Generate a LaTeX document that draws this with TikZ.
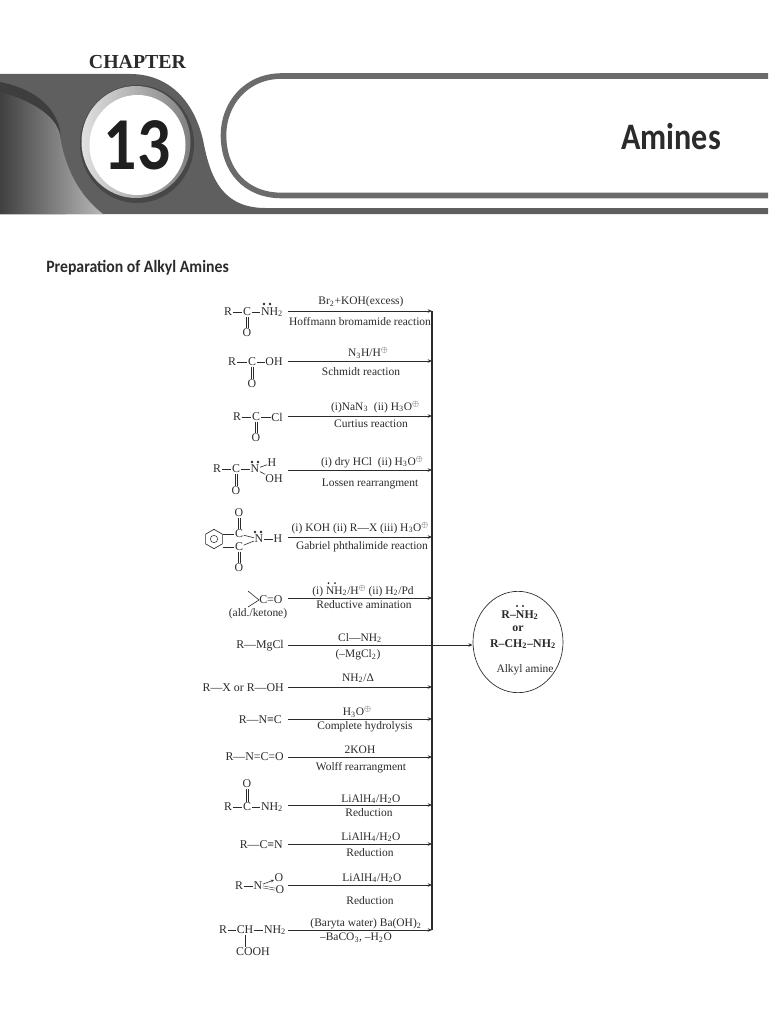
\documentclass[tikz,border=0pt]{standalone}
\usepackage{fontspec}
\usepackage{graphicx}
\setmainfont{Liberation Serif}
\newfontfamily\headfont{Carlito}
\usetikzlibrary{shapes.geometric,arrows.meta,calc}
\definecolor{ink}{HTML}{2B2B2B}
\definecolor{band}{HTML}{5F5F5F}
\definecolor{bandd}{HTML}{3E3E3E}
\newcommand{\sbs}[1]{\textsubscript{#1}}
\newcommand{\plusup}{\raisebox{0.75ex}{\scalebox{0.72}{$\oplus$}}}
\newcommand{\dblv}[2]{%
  \draw[bond] ($(#1)+(-1.1,0)$) -- ($(#2)+(-1.1,0)$);
  \draw[bond] ($(#1)+(1.1,0)$) -- ($(#2)+(1.1,0)$);}
\tikzset{
 lab/.style={font=\fontsize{8.6}{10}\selectfont,text=ink,inner sep=0pt,anchor=center},
 atom/.style={font=\fontsize{8.9}{10}\selectfont,text=ink,inner sep=0.3pt,anchor=center},
 chem/.style={font=\fontsize{8.9}{10}\selectfont,text=ink,inner sep=0pt,anchor=east},
 bond/.style={draw=ink,line width=0.45pt},
 dbl/.style={draw=ink,line width=0.35pt,double=white,double distance=1.1pt},
 arr/.style={draw=ink,line width=0.7pt,-{Stealth[length=3.2pt,width=2.6pt]}},
 lp/.style={fill=ink,circle,inner sep=0pt,minimum size=1.9pt},
}
\begin{document}
\begin{tikzpicture}[x=0.75pt,y=-0.75pt]
\useasboundingbox (0,0) rectangle (768,1024);
\fill[white] (0,0) rectangle (768,1024);
% header band
\fill[band] (0,74) -- (130,74) .. controls (172,74) and (195,105) .. (203,140)
  .. controls (209,170) and (218,208) .. (265,208) -- (768,208) -- (768,214) -- (0,214) -- cycle;
\fill[bandd] (0,82) .. controls (30,88) and (54,103) .. (60,130) -- (66,214) -- (0,214) -- cycle;
\shade[left color=black!75,right color=black!28] (0,92) .. controls (30,100) and (56,115) .. (60,135)
  .. controls (64,165) and (78,195) .. (103,214) -- (0,214) -- cycle;
% number disc
\fill[black!72] (137,144) ellipse (57 and 59);
\shade[left color=black!12,right color=black!50] (136,142) ellipse (54.5 and 56);
\fill[white] (137.5,145) ellipse (48 and 50);
\node[inner sep=0pt,text=black!88] (num) at (137,145) {\headfont\bfseries\scalebox{0.88}[1]{\fontsize{56}{56}\selectfont 13}};
% title panel
\draw[black!58,line width=4.2pt] (768,76) -- (282,76) .. controls (245,76) and (223.5,105) .. (223.5,135)
  .. controls (223.5,170) and (245,195.5) .. (282,195.5) -- (768,195.5);
\node[inner sep=0pt,text=ink] (title) at (671,137) {\headfont\bfseries\scalebox{0.86}[1]{\fontsize{28}{28}\selectfont Amines}};
\node[inner sep=0pt,text=ink] (chap) at (137.5,62) {\fontsize{14.9}{15}\selectfont\bfseries CHAPTER};
\node[inner sep=0pt,text=ink,anchor=west] (sect) at (46,268) {\headfont\bfseries\scalebox{0.91}[1]{\fontsize{13}{14}\selectfont Preparation of Alkyl Amines}};

% product
\node[draw=ink,line width=0.5pt,ellipse,minimum width=67.5pt,minimum height=76pt,inner sep=0pt] (prod) at (518,642) {};
\node[atom,font=\fontsize{8.9}{10}\selectfont\bfseries] (p1) at (520,615) {R–NH\sbs{2}};
\node[atom,font=\fontsize{8.9}{10}\selectfont\bfseries] (p2) at (518,629) {or};
\node[atom,font=\fontsize{8.9}{10}\selectfont\bfseries] (p3) at (523,644) {R–CH\sbs{2}–NH\sbs{2}};
\node[lab] (p4) at (525,670) {Alkyl amine};
\fill[ink] (517,606) circle (1.2) (523,606) circle (1.2);

% bus ends
\foreach \n/\y in {1/311,2/361,3/416,4/470,5/537,6/598,7/645,8/687,9/719,10/757,11/805,12/844,13/885,14/930}{
  \coordinate (s\n) at (288,\y);
  \coordinate (e\n) at (432,\y);
}
\draw[ink,line width=0.9pt] (e1) -- (e14);
\foreach \n in {1,2,3,4,5,6,8,9,10,11,12,13,14}{ \draw[arr] (s\n) -- (e\n); }
\draw[arr] (s7) -- (prod.west |- s7);

% reagents and names
\node[lab] (a1) at (361,302) {Br\sbs{2}+KOH(excess)};
\node[lab] (b1) at (360,322) {Hoffmann bromamide reaction};
\node[lab] (a2) at (368,353) {N\sbs{3}H/H\plusup};
\node[lab] (b2) at (361,372) {Schmidt reaction};
\node[lab] (a3) at (375,407) {(i)NaN\sbs{3}\ \ (ii) H\sbs{3}O\plusup};
\node[lab] (b3) at (371,424) {Curtius reaction};
\node[lab] (a4) at (372,462) {(i) dry HCl\ \ (ii) H\sbs{3}O\plusup};
\node[lab] (b4) at (370,484) {Lossen rearrangment};
\node[lab] (a5) at (360,528) {(i) KOH (ii) R—X (iii) H\sbs{3}O\plusup};
\node[lab] (b5) at (362,547) {Gabriel phthalimide reaction};
\node[lab] (a6) at (363,591) {(i) NH\sbs{2}/H\plusup\ (ii) H\sbs{2}/Pd};
\fill[ink] (328.5,583) circle (1) (335,583) circle (1);
\node[lab] (b6) at (364,605) {Reductive amination};
\node[lab] (a7) at (360,638) {Cl—NH\sbs{2}};
\node[lab] (b7) at (358,655) {(–MgCl\sbs{2})};
\node[lab] (a8) at (358,678) {NH\sbs{2}/Δ};
\node[lab] (a9) at (357,712) {H\sbs{3}O\plusup};
\node[lab] (b9) at (365,727) {Complete hydrolysis};
\node[lab] (a10) at (360,750) {2KOH};
\node[lab] (b10) at (361,768) {Wolff rearrangment};
\node[lab] (a11) at (371,799) {LiAlH\sbs{4}/H\sbs{2}O};
\node[lab] (b11) at (369,813) {Reduction};
\node[lab] (a12) at (371,837) {LiAlH\sbs{4}/H\sbs{2}O};
\node[lab] (b12) at (370,853) {Reduction};
\node[lab] (a13) at (372,878) {LiAlH\sbs{4}/H\sbs{2}O};
\node[lab] (b13) at (370,901) {Reduction};
\node[lab] (a14) at (366,924) {(Baryta water)\ Ba(OH)\sbs{2}};
\node[lab] (b14) at (356,938) {–BaCO\sbs{3}, –H\sbs{2}O};

% row 1
\node[atom] (r1R) at (228,312) {R};
\node[atom] (r1C) at (247,312) {C};
\node[atom] (r1N) at (272,312) {NH\sbs{2}};
\node[atom] (r1O) at (247,333) {O};
\draw[bond] (r1R) -- (r1C); \draw[bond] (r1C) -- (r1N); \dblv{r1C.south}{r1O.north}
\node[lp] (r1d1) at (264,304) {}; \node[lp] (r1d2) at (270,304) {};
% row 2
\node[atom] (r2R) at (232,362) {R};
\node[atom] (r2C) at (252,362) {C};
\node[atom] (r2H) at (274,362) {OH};
\node[atom] (r2O) at (252,384) {O};
\draw[bond] (r2R) -- (r2C); \draw[bond] (r2C) -- (r2H); \dblv{r2C.south}{r2O.north}
% row 3
\node[atom] (r3R) at (237,417) {R};
\node[atom] (r3C) at (256,417) {C};
\node[atom] (r3L) at (277,417) {Cl};
\node[atom] (r3O) at (256,438) {O};
\draw[bond] (r3R) -- (r3C); \draw[bond] (r3C) -- (r3L); \dblv{r3C.south}{r3O.north}
% row 4
\node[atom] (r4R) at (217,469) {R};
\node[atom] (r4C) at (236,469) {C};
\node[atom] (r4N) at (255,469) {N};
\node[atom] (r4H) at (272,463) {H};
\node[atom] (r4H2) at (274,479) {OH};
\node[atom] (r4O) at (236,491) {O};
\draw[bond] (r4R) -- (r4C); \draw[bond] (r4C) -- (r4N); \dblv{r4C.south}{r4O.north}
\draw[bond] (r4N) -- (r4H); \draw[bond] (r4N) -- (r4H2);
\node[lp] (r4d1) at (252,462) {}; \node[lp] (r4d2) at (258,462) {};
% row 5
\node[draw=ink,line width=0.5pt,regular polygon,regular polygon sides=6,shape border rotate=30,minimum size=14.5pt,inner sep=0pt] (hex) at (214,539) {};
\node[draw=ink,line width=0.4pt,circle,minimum size=5.5pt,inner sep=0pt] (hexin) at (214,539) {};
\node[atom] (r5C1) at (239,534) {C};
\node[atom] (r5C2) at (239,547) {C};
\node[atom] (r5O1) at (239,513) {O};
\node[atom] (r5O2) at (239,568) {O};
\node[atom] (r5N) at (259,539) {N};
\node[atom] (r5H) at (278,539) {H};
\draw[bond] (hex.east |- r5C1) -- (r5C1); \draw[bond] (hex.east |- r5C2) -- (r5C2);
\dblv{r5C1.north}{r5O1.south} \dblv{r5C2.south}{r5O2.north}
\draw[bond] (r5C1) -- (r5N); \draw[bond] (r5C2) -- (r5N); \draw[bond] (r5N) -- (r5H);
\node[lp] (r5d1) at (255,532) {}; \node[lp] (r5d2) at (261,532) {};
% row 6
\node[atom,anchor=west,inner sep=0pt] (r6C) at (259,600) {C=O};
\coordinate (r6a) at (248,591); \coordinate (r6b) at (248,607);
\draw[bond] (r6C.west) -- (r6a); \draw[bond] (r6C.west) -- (r6b);
\node[lab] (r6k) at (258,614) {(ald./ketone)};
% plain rows
\node[chem] (r7) at (284,646) {R—MgCl};
\node[chem] (r8) at (284,688) {R—X or R—OH};
\node[chem] (r9) at (282,720) {R—N≡C};
\node[chem] (r10) at (284,757) {R—N=C=O};
% row 11
\node[atom] (r11R) at (228,807) {R};
\node[atom] (r11C) at (247,807) {C};
\node[atom] (r11N) at (272,807) {NH\sbs{2}};
\node[atom] (r11O) at (247,784) {O};
\draw[bond] (r11R) -- (r11C); \draw[bond] (r11C) -- (r11N); \dblv{r11C.north}{r11O.south}
% row 12
\node[chem] (r12) at (283,845) {R—C≡N};
% row 13
\node[atom] (r13R) at (239,886) {R};
\node[atom] (r13N) at (258,886) {N};
\node[atom] (r13O1) at (279,878) {O};
\node[atom] (r13O2) at (280,890) {O};
\draw[bond] (r13R) -- (r13N);
\draw[bond,-{Stealth[length=2.5pt,width=2pt]}] (r13N) -- (r13O1);
\draw[dbl] (r13N) -- (r13O2);
% row 14
\node[atom] (r14R) at (223,930) {R};
\node[atom] (r14C) at (245,930) {CH};
\node[atom] (r14N) at (275,930) {NH\sbs{2}};
\node[atom] (r14O) at (253,952) {COOH};
\draw[bond] (r14R) -- (r14C); \draw[bond] (r14C) -- (r14N);
\draw[bond] (r14C.south) -- (r14C.south |- r14O.north);
\end{tikzpicture}
\end{document}
